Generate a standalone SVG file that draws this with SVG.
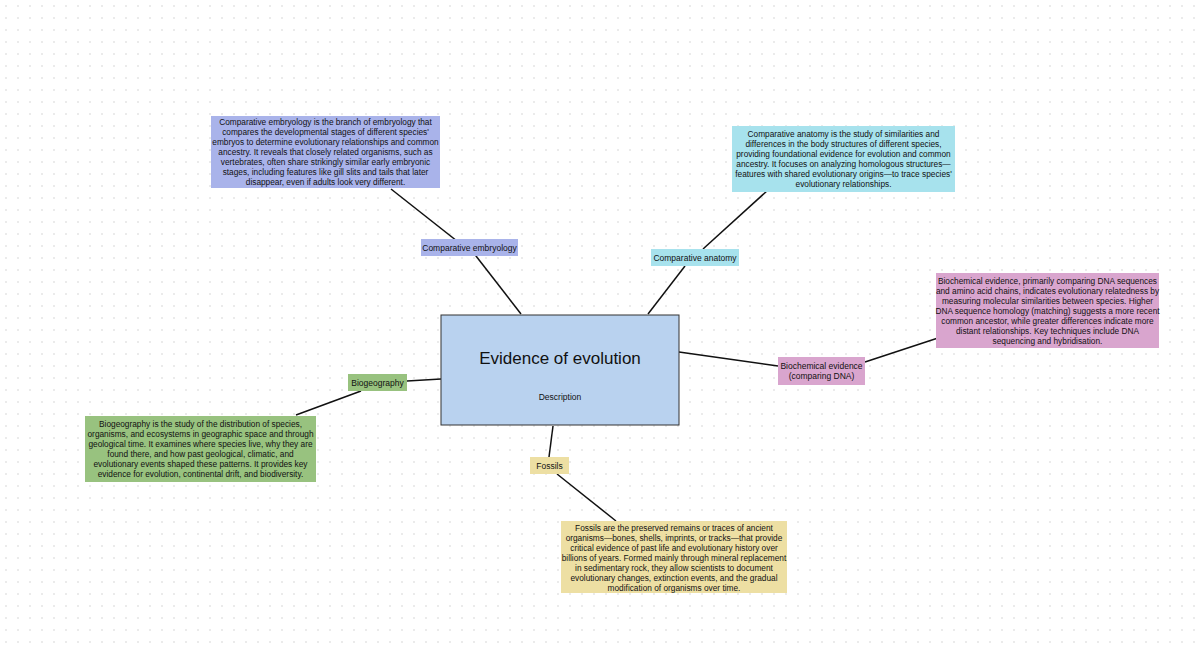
<svg xmlns="http://www.w3.org/2000/svg" width="1200" height="646" viewBox="0 0 1200 646">
<defs>
<pattern id="dots" width="12" height="12" patternUnits="userSpaceOnUse"><circle cx="6" cy="6" r="0.7" fill="#c8c8c8"/></pattern>
<style>
text{font-family:"Liberation Sans",Arial,sans-serif;fill:#111;text-anchor:middle}
.d{font-size:8.3px}
.l{font-size:8.5px}
.c{stroke:#111;stroke-width:1.5;fill:none}
</style>
</defs>
<rect width="1200" height="646" fill="#fff"/>
<rect width="1200" height="646" fill="url(#dots)"/>
<g id="connectors">
<line class="c" x1="521" y1="314" x2="476" y2="256"/>
<line class="c" x1="476" y1="256" x2="391" y2="189"/>
<line class="c" x1="648" y1="314" x2="685" y2="266"/>
<line class="c" x1="703" y1="249" x2="768" y2="190"/>
<line class="c" x1="679" y1="352" x2="778" y2="366"/>
<line class="c" x1="865" y1="362" x2="938" y2="338"/>
<line class="c" x1="441" y1="379" x2="407" y2="381"/>
<line class="c" x1="361" y1="391" x2="296" y2="415"/>
<line class="c" x1="553" y1="426" x2="549" y2="457"/>
<line class="c" x1="557" y1="474" x2="616" y2="521"/>
</g>
<g id="center">
<rect x="441" y="315" width="238" height="110" fill="#b9d2ef" stroke="#333" stroke-width="1"/>
<text x="560" y="364" font-size="17">Evidence of evolution</text>
<text x="560" y="400" font-size="8.5">Description</text>
</g>
<g id="embryology">
<rect x="421" y="239" width="97" height="17" fill="#a9b3ea"/>
<text class="l" x="469.5" y="251">Comparative embryology</text>
</g>
<g id="embryology-desc">
<rect x="211" y="116" width="229" height="72" fill="#a9b3ea"/>
<text class="d" x="325.5" y="125">Comparative embryology is the branch of embryology that</text>
<text class="d" x="325.5" y="135">compares the developmental stages of different species'</text>
<text class="d" x="325.5" y="145">embryos to determine evolutionary relationships and common</text>
<text class="d" x="325.5" y="155">ancestry. It reveals that closely related organisms, such as</text>
<text class="d" x="325.5" y="165">vertebrates, often share strikingly similar early embryonic</text>
<text class="d" x="325.5" y="175">stages, including features like gill slits and tails that later</text>
<text class="d" x="325.5" y="185">disappear, even if adults look very different.</text>
</g>
<g id="anatomy">
<rect x="651" y="249" width="88" height="17" fill="#a7e2ed"/>
<text class="l" x="695" y="261">Comparative anatomy</text>
</g>
<g id="anatomy-desc">
<rect x="732" y="126" width="223" height="66" fill="#a7e2ed"/>
<text class="d" x="843.5" y="137">Comparative anatomy is the study of similarities and</text>
<text class="d" x="843.5" y="147">differences in the body structures of different species,</text>
<text class="d" x="843.5" y="157">providing foundational evidence for evolution and common</text>
<text class="d" x="843.5" y="167">ancestry. It focuses on analyzing homologous structures—</text>
<text class="d" x="843.5" y="177">features with shared evolutionary origins—to trace species'</text>
<text class="d" x="843.5" y="187">evolutionary relationships.</text>
</g>
<g id="biochem">
<rect x="778" y="357" width="87" height="28" fill="#d9a5ce"/>
<text class="l" x="821.5" y="369">Biochemical evidence</text>
<text class="l" x="821.5" y="379">(comparing DNA)</text>
</g>
<g id="biochem-desc">
<rect x="936" y="273" width="223" height="75" fill="#d9a5ce"/>
<text class="d" x="1047.5" y="284">Biochemical evidence, primarily comparing DNA sequences</text>
<text class="d" x="1047.5" y="294">and amino acid chains, indicates evolutionary relatedness by</text>
<text class="d" x="1047.5" y="304">measuring molecular similarities between species. Higher</text>
<text class="d" x="1047.5" y="314">DNA sequence homology (matching) suggests a more recent</text>
<text class="d" x="1047.5" y="324">common ancestor, while greater differences indicate more</text>
<text class="d" x="1047.5" y="334">distant relationships. Key techniques include DNA</text>
<text class="d" x="1047.5" y="344">sequencing and hybridisation.</text>
</g>
<g id="biogeography">
<rect x="348" y="374" width="59" height="17" fill="#98c27f"/>
<text class="l" x="377.5" y="386">Biogeography</text>
</g>
<g id="biogeography-desc">
<rect x="85" y="416" width="231" height="66" fill="#98c27f"/>
<text class="d" x="200.5" y="427">Biogeography is the study of the distribution of species,</text>
<text class="d" x="200.5" y="437">organisms, and ecosystems in geographic space and through</text>
<text class="d" x="200.5" y="447">geological time. It examines where species live, why they are</text>
<text class="d" x="200.5" y="457">found there, and how past geological, climatic, and</text>
<text class="d" x="200.5" y="467">evolutionary events shaped these patterns. It provides key</text>
<text class="d" x="200.5" y="477">evidence for evolution, continental drift, and biodiversity.</text>
</g>
<g id="fossils">
<rect x="530" y="457" width="39" height="17" fill="#eddfa3"/>
<text class="l" x="549.5" y="469">Fossils</text>
</g>
<g id="fossils-desc">
<rect x="561" y="521" width="226" height="72" fill="#eddfa3"/>
<text class="d" x="674" y="531">Fossils are the preserved remains or traces of ancient</text>
<text class="d" x="674" y="541">organisms—bones, shells, imprints, or tracks—that provide</text>
<text class="d" x="674" y="551">critical evidence of past life and evolutionary history over</text>
<text class="d" x="674" y="561">billions of years. Formed mainly through mineral replacement</text>
<text class="d" x="674" y="571">in sedimentary rock, they allow scientists to document</text>
<text class="d" x="674" y="581">evolutionary changes, extinction events, and the gradual</text>
<text class="d" x="674" y="591">modification of organisms over time.</text>
</g>
</svg>
